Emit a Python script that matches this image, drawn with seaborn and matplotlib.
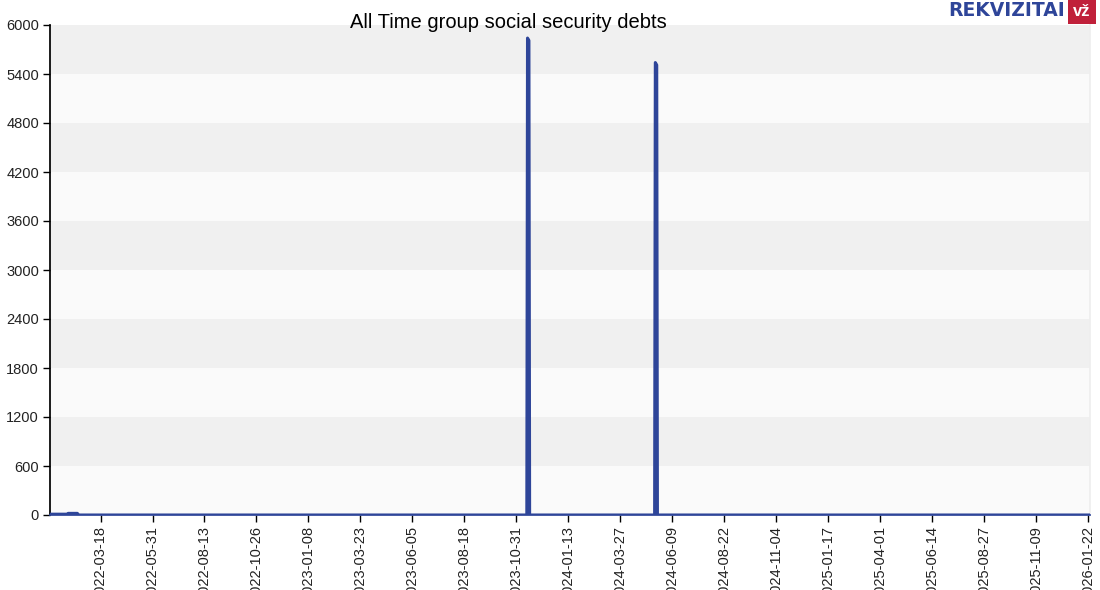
import matplotlib
matplotlib.use("Agg")
import matplotlib.pyplot as plt
import seaborn as sns
import pandas as pd

# ---- data ----
point_dates = ["2022-01-05", "2022-01-30", "2022-01-31", "2022-02-13", "2022-02-14",
               "2023-11-15", "2023-11-16", "2023-11-18", "2023-11-19",
               "2024-05-15", "2024-05-16", "2024-05-18", "2024-05-19",
               "2026-01-25"]
point_values = [10, 10, 20, 20, 0,
                0, 5840, 5810, 0,
                0, 5540, 5510, 0,
                0]
tick_labels = ["2022-03-18", "2022-05-31", "2022-08-13", "2022-10-26", "2023-01-08",
               "2023-03-23", "2023-06-05", "2023-08-18", "2023-10-31", "2024-01-13",
               "2024-03-27", "2024-06-09", "2024-08-22", "2024-11-04", "2025-01-17",
               "2025-04-01", "2025-06-14", "2025-08-27", "2025-11-09", "2026-01-22"]
y_ticks = [0, 600, 1200, 1800, 2400, 3000, 3600, 4200, 4800, 5400, 6000]
title = "All Time group social security debts"

df = pd.DataFrame({"date": pd.to_datetime(point_dates), "value": point_values})

sns.set_theme(style="white")
plt.rcParams["font.family"] = ["Liberation Sans", "DejaVu Sans"]

fig = plt.figure(figsize=(11, 5.9), dpi=100)
fig.patch.set_facecolor("white")
ax = fig.add_axes([50 / 1100, 75 / 590, 1040 / 1100, 490 / 590])
ax.set_facecolor("#fafafa")

# alternating bands
for i in range(len(y_ticks) - 1):
    if i % 2 == 1:
        ax.axhspan(y_ticks[i], y_ticks[i + 1], color="#f0f0f0", lw=0, zorder=0)

sns.lineplot(data=df, x="date", y="value", ax=ax, color="#2e4599", linewidth=2.2, zorder=3)

ax.set_xlim(pd.Timestamp("2022-01-05"), pd.Timestamp("2026-01-25"))
ax.set_ylim(0, 6000)
ax.set_yticks(y_ticks)
ax.set_yticklabels([str(v) for v in y_ticks], fontsize=10.5, color="#222222")
ax.set_xticks(pd.to_datetime(tick_labels))
ax.set_xticklabels(tick_labels, rotation=90, fontsize=10.5, color="#222222")
ax.tick_params(axis="both", direction="out", length=5, width=1, color="black",
               bottom=True, left=True, pad=3)
ax.set_xlabel("")
ax.set_ylabel("")
ax.spines["top"].set_visible(False)
ax.spines["right"].set_color("#eeeeee")
ax.spines["left"].set_color("black")
ax.spines["bottom"].set_color("#2e4599")
ax.grid(False)

fig.text(508 / 1100, 1 - 23 / 590, title, ha="center", va="center", fontsize=14.5, color="black")

# logo
fig.text(1065 / 1100, 1 - 11 / 590, "REKVIZITAI", ha="right", va="center", fontsize=13.5,
         fontweight="bold", color="#2e4599",
         family=["DejaVu Sans Condensed", "DejaVu Sans"])
fig.text(1082 / 1100, 1 - 11 / 590, "vž", ha="center", va="center", fontsize=12,
         fontweight="bold", color="white",
         bbox=dict(boxstyle="square,pad=0.3", fc="#c0203a", ec="none"))

fig.savefig("out.png", dpi=100)
